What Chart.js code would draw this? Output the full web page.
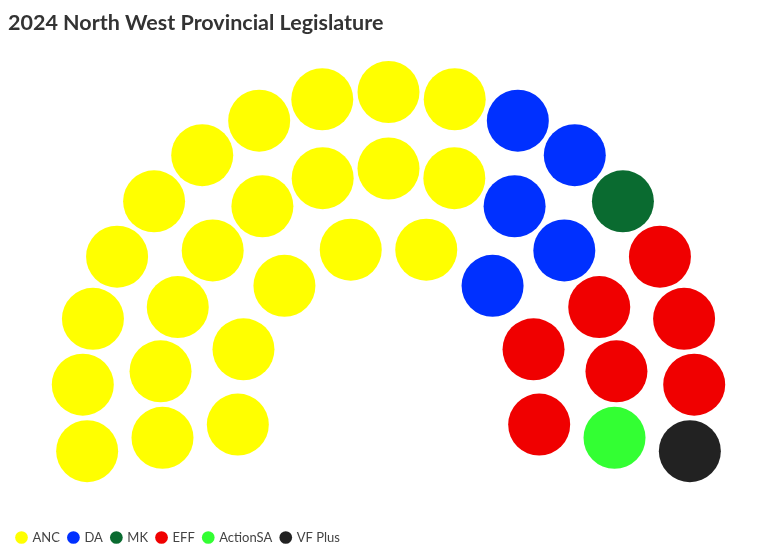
<!DOCTYPE html>
<html>
<head>
<meta charset="utf-8">
<script src="https://cdn.jsdelivr.net/npm/chart.js@4/dist/chart.umd.min.js"></script>
<style>
  html, body { margin: 0; padding: 0; background: #fff; }
  #wrap { width: 768px; height: 558px; }
</style>
</head>
<body>
<div id="wrap"><canvas id="chart" width="768" height="558"></canvas></div>
<script>
(function () {
  'use strict';

  // seats per party, in parliament order (left to right)
  var parties = ['ANC', 'DA', 'MK', 'EFF', 'ActionSA', 'VF Plus'];
  var seats = [23, 5, 1, 7, 1, 1];
  var colors = ['#FFFF00', '#0030FF', '#0A6B30', '#F00000', '#33FF33', '#222222'];

  // hemicycle layout: rows as fractions of the outer radius, arc spans +-100 deg
  var rowRadius = [0.5, 0.75, 1];
  var startAngle = -100, endAngle = 100;
  var outerPx = 306;           // outer row radius in pixels
  var centerPx = { x: 388.5, y: 398 };

  var total = seats.reduce(function (a, b) { return a + b; }, 0);
  var radSum = rowRadius.reduce(function (a, b) { return a + b; }, 0);
  var rowSeats = rowRadius.map(function (r) { return Math.round(total * r / radSum); });
  var diff = total - rowSeats.reduce(function (a, b) { return a + b; }, 0);
  rowSeats[rowSeats.length - 1] += diff;

  var slots = [];
  rowRadius.forEach(function (r, ri) {
    var n = rowSeats[ri];
    for (var i = 0; i < n; i++) {
      var ang = startAngle + i * (endAngle - startAngle) / (n - 1);
      var rad = ang * Math.PI / 180;
      slots.push({ ang: ang, row: ri, x: r * Math.sin(rad), y: r * Math.cos(rad) });
    }
  });
  slots.sort(function (a, b) {
    if (Math.abs(a.ang - b.ang) > 1e-6) return a.ang - b.ang;
    return a.row - b.row;
  });

  var datasets = [];
  var k = 0;
  parties.forEach(function (p, pi) {
    var pts = slots.slice(k, k + seats[pi]).map(function (s) { return { x: s.x, y: s.y }; });
    k += seats[pi];
    datasets.push({
      label: p,
      data: pts,
      backgroundColor: colors[pi],
      borderColor: colors[pi],
      borderWidth: 0,
      pointRadius: 31,
      pointHoverRadius: 31,
      pointStyle: 'circle'
    });
  });

  var chart = new Chart(document.getElementById('chart').getContext('2d'), {
    type: 'scatter',
    data: { datasets: datasets },
    options: {
      responsive: false,
      animation: false,
      layout: { padding: { left: 8, right: 0, top: 6, bottom: 4 } },
      plugins: {
        title: {
          display: true,
          text: '2024 North West Provincial Legislature',
          align: 'start',
          color: '#333333',
          font: { family: 'Lato', size: 21.5, weight: 'bold' },
          padding: { top: 4, bottom: 10 }
        },
        legend: {
          position: 'bottom',
          align: 'start',
          labels: {
            usePointStyle: true,
            pointStyle: 'circle',
            boxWidth: 9,
            boxHeight: 9,
            padding: 9,
            color: '#444444',
            font: { family: 'Lato', size: 13 }
          }
        },
        tooltip: { enabled: false }
      },
      scales: {
        x: { type: 'linear', display: false, min: -1.2, max: 1.2 },
        y: { type: 'linear', display: false, min: -0.4, max: 1.2 }
      }
    }
  });

  // make one data unit equal outerPx pixels, with the centre at centerPx
  var ca = chart.chartArea;
  chart.options.scales.x.min = (ca.left - centerPx.x) / outerPx;
  chart.options.scales.x.max = (ca.right - centerPx.x) / outerPx;
  chart.options.scales.y.max = (centerPx.y - ca.top) / outerPx;
  chart.options.scales.y.min = (centerPx.y - ca.bottom) / outerPx;
  chart.update('none');
})();
</script>
</body>
</html>
